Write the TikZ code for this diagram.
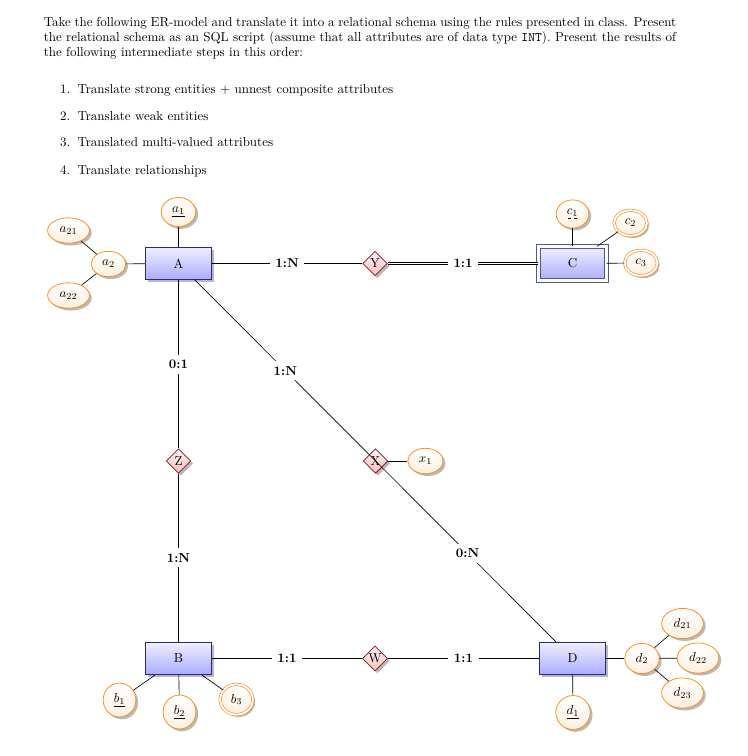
\documentclass[tikz,border=0pt]{standalone}
\usetikzlibrary{shapes.geometric,shadows}
\definecolor{entdraw}{RGB}{40,40,140}
\definecolor{reldraw}{RGB}{130,25,35}
\definecolor{attrdraw}{RGB}{247,145,30}
\newcommand\mydashul[1]{\setbox0\hbox{#1}\leavevmode\rlap{\raisebox{-3pt}{\hbox to\wd0{\xleaders\hbox to 3.6pt{\hss\rule{2.2pt}{0.45pt}\hss}\hfil}}}\box0}
\tikzset{
  myshadow/.style={drop shadow={shadow xshift=1.8pt,shadow yshift=-1.8pt,opacity=0.5,fill=black!55}},
  entity/.style={rectangle, draw=entdraw, line width=0.6pt, top color=blue!6, bottom color=blue!33, myshadow, minimum width=51pt, minimum height=25pt, inner sep=2pt},
  weakentity/.style={entity, draw=entdraw!80, line width=0.5pt, double=white, double distance=2.6pt, minimum width=52pt, minimum height=26pt},
  relationship/.style={diamond, draw=reldraw, line width=0.6pt, top color=red!4, bottom color=red!25, myshadow, minimum size=19pt, inner sep=0.5pt},
  attribute/.style={ellipse, draw=attrdraw, line width=0.6pt, top color=white, bottom color=orange!12, myshadow, inner xsep=4.5pt, inner ysep=4pt},
  multiattr/.style={attribute, line width=0.5pt, double=white, double distance=1.4pt},
  card/.style={fill=white, inner xsep=4.3pt, inner ysep=3.9pt, font=\bfseries},
  link/.style={line width=0.5pt},
  txt/.style={inner sep=0pt, anchor=base west},
  lbl/.style={inner sep=0pt, anchor=base east}
}
\begin{document}
\begin{tikzpicture}[x=0.76923pt,y=-0.76923pt]
\useasboundingbox (0,0) rectangle (747,756);
% text
\node[txt] (t1) at (43.5,27) {\makebox[486.5pt][s]{Take the following ER-model and translate it into a relational schema using the rules presented in class. Present}};
\node[txt] (t2) at (43.5,42) {\makebox[486.5pt][s]{the relational schema as an SQL script (assume that all attributes are of data type \texttt{INT}). Present the results of}};
\node[txt] (t3) at (43.5,56.4) {the following intermediate steps in this order:};
\node[lbl] (n1) at (70.5,94) {1.};
\node[txt] (i1) at (77.3,94) {Translate strong entities $+$ unnest composite attributes};
\node[lbl] (n2) at (70.5,120.7) {2.};
\node[txt] (i2) at (77.3,120.7) {Translate weak entities};
\node[lbl] (n3) at (70.5,147) {3.};
\node[txt] (i3) at (77.3,147) {Translated multi-valued attributes};
\node[lbl] (n4) at (70.5,174) {4.};
\node[txt] (i4) at (77.3,174) {Translate relationships};
% entities
\node[entity] (A) at (178.5,263.5) {A};
\node[weakentity] (C) at (572.5,263.5) {C};
\node[entity] (B) at (178.5,658.5) {B};
\node[entity] (D) at (572.5,658.5) {D};
% relationships
\node[relationship] (Y) at (375,263.5) {Y};
\node[relationship] (X) at (375.5,461) {X};
\node[relationship] (Z) at (178.5,461) {Z};
\node[relationship] (W) at (375,658.5) {W};
% attributes
\node[attribute] (a1) at (178.5,212) {$\underline{a_1}$};
\node[attribute] (a2) at (108.5,264) {$a_2$};
\node[attribute] (a21) at (68.5,230.5) {$a_{21}$};
\node[attribute] (a22) at (68.5,295.5) {$a_{22}$};
\node[attribute] (c1) at (572.5,214) {\mydashul{$c_1$}};
\node[multiattr] (c2) at (630.5,223) {$c_2$};
\node[multiattr] (c3) at (641,263) {$c_3$};
\node[attribute] (x1) at (425.5,461) {$x_1$};
\node[attribute] (b1) at (119.5,700) {$\underline{b_1}$};
\node[attribute] (b2) at (179.5,712) {$\underline{b_2}$};
\node[multiattr] (b3) at (236.5,699.5) {$b_3$};
\node[attribute] (d1) at (573,712.5) {$\underline{d_1}$};
\node[attribute] (d2) at (642,658.5) {$d_2$};
\node[attribute] (d21) at (682.5,623.5) {$d_{21}$};
\node[attribute] (d22) at (698,658) {$d_{22}$};
\node[attribute] (d23) at (682.5,693) {$d_{23}$};
% attribute links
\draw[link] (A) -- (a1);
\draw[link] (A) -- (a2);
\draw[link] (a2) -- (a21);
\draw[link] (a2) -- (a22);
\draw[link] (C) -- (c1);
\draw[link] (C) -- (c2);
\draw[link] (C) -- (c3);
\draw[link] (X) -- (x1);
\draw[link] (B) -- (b1);
\draw[link] (B) -- (b2);
\draw[link] (B) -- (b3);
\draw[link] (D) -- (d1);
\draw[link] (D) -- (d2);
\draw[link] (d2) -- (d21);
\draw[link] (d2) -- (d22);
\draw[link] (d2) -- (d23);
% relationship links
\draw[link] (A) -- node[card] {1:N} (Y);
\draw[link, double, double distance=1.5pt] (Y) -- node[card] {1:1} (C);
\draw[link] (A) -- node[card] {0:1} (Z);
\draw[link] (Z) -- node[card] {1:N} (B);
\draw[link] (A) -- node[card, pos=0.25] {1:N} node[card, pos=0.755] {0:N} (D);
\draw[link] (B) -- node[card] {1:1} (W);
\draw[link] (W) -- node[card] {1:1} (D);
\end{tikzpicture}
\end{document}
